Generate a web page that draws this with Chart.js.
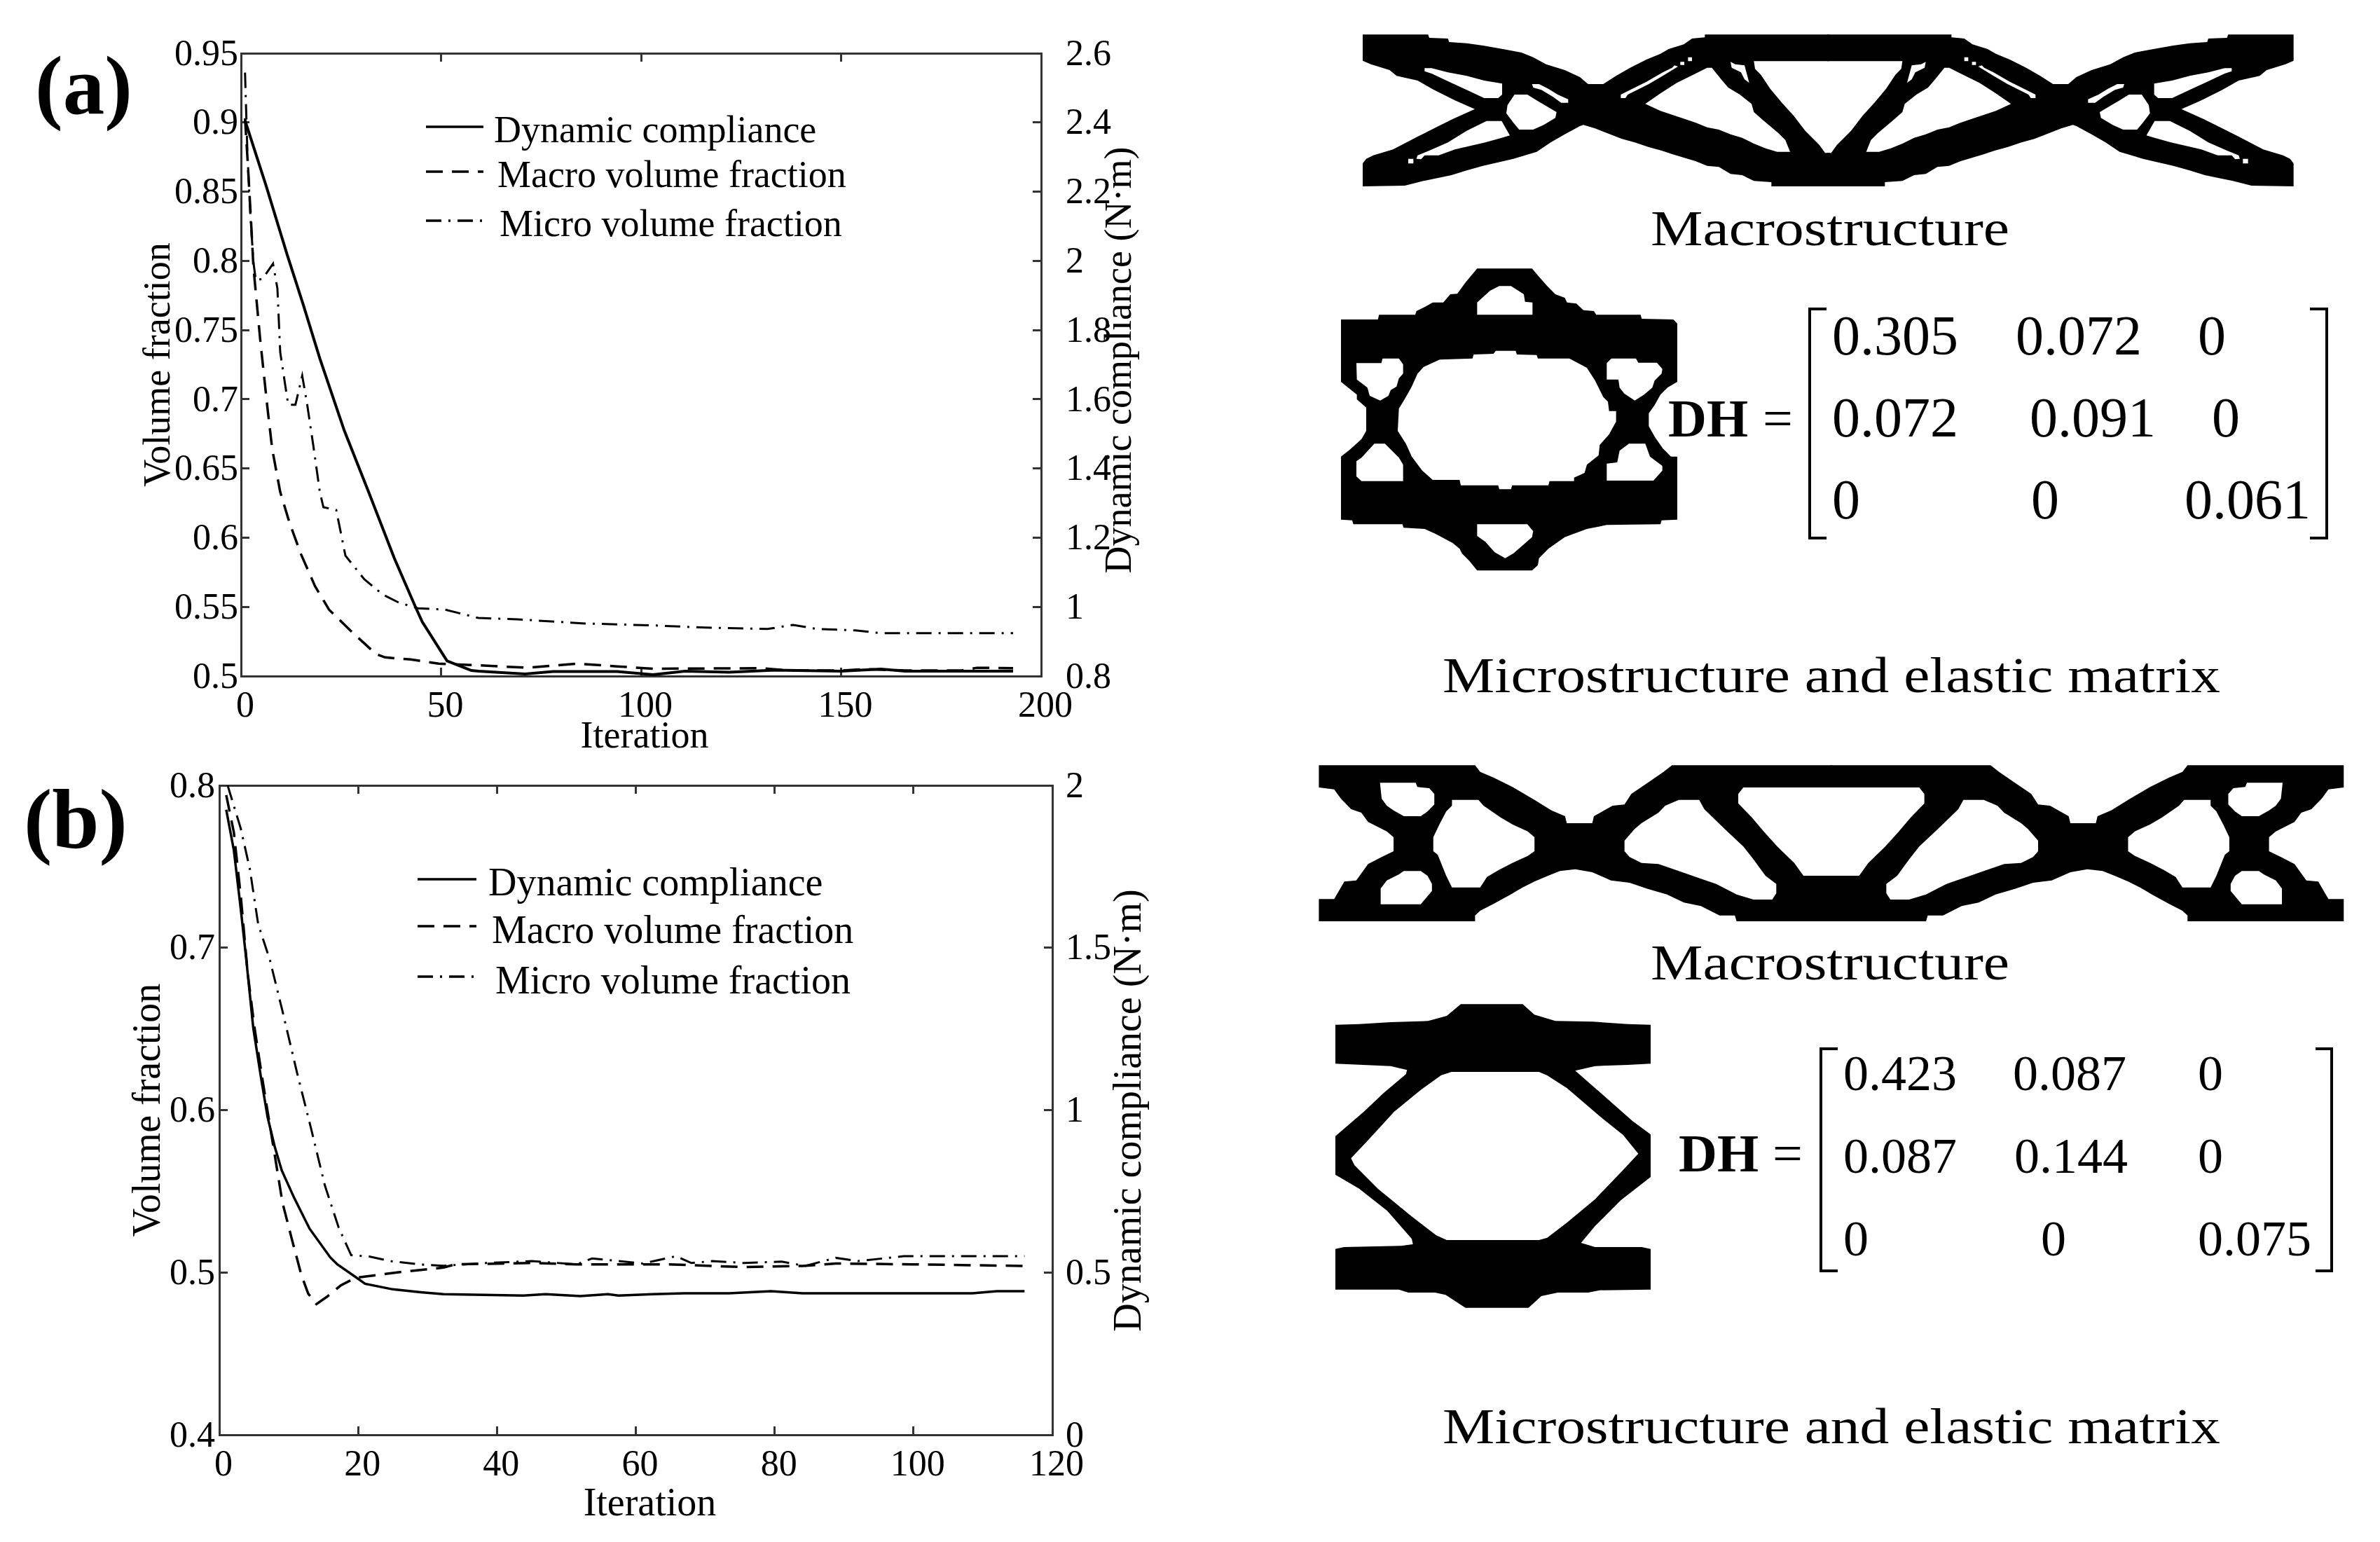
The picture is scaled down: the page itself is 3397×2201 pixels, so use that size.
<!DOCTYPE html>
<html>
<head>
<meta charset="utf-8">
<title>Dynamic compliance and volume fraction</title>
<script src="https://cdn.jsdelivr.net/npm/chart.js@4"></script>
<style>
  html, body { margin: 0; padding: 0; background: #fff; width: 3397px; height: 2201px; overflow: hidden; }
  canvas { position: absolute; left: 0; }
  #chartA { top: 0; }
  #chartB { top: 1040px; }
  svg { position: absolute; left: 0; top: 0; }
  svg text { font-family: "Liberation Serif", serif; fill: #000; }
</style>
</head>
<body>
<canvas id="chartA" width="1800" height="1100"></canvas>
<canvas id="chartB" width="1800" height="1160"></canvas>

<svg width="3397" height="2201" viewBox="0 0 3397 2201">
  <text x="50" y="162" font-size="119" font-weight="bold">(a)</text>
  <text x="34" y="1210" font-size="121" font-weight="bold">(b)</text>

  <!-- macrostructure a -->
  <g transform="translate(1940,40) scale(0.33333)">
    <g id="macroAHalf">
      <path fill-rule="evenodd" d="M15,28 L295,28 300,42 380,45 385,60 460,65 530,75 615,90 695,105 745,125 800,155 880,180 945,210 980,240 1045,240 1100,205 1160,170 1230,135 1290,110 1325,90 1390,70 1425,45 1480,40 1480,28 2012,28 2012,678 1765,678 1765,660 1690,655 1640,630 1590,625 1540,595 1490,590 1440,570 1390,555 1340,540 1295,525 1240,510 1180,490 1125,475 1075,455 1010,430 960,415 945,420 880,455 820,490 760,530 660,560 595,575 530,590 460,610 395,630 275,655 195,675 15,678 15,580 30,560 60,545 145,520 250,465 320,430 400,390 495,347 410,310 320,265 250,225 160,205 130,180 50,155 15,140 Z
      M280,172 L310,172 380,190 460,205 535,225 612,238 612,285 595,300 535,300 460,265 385,230 310,195 280,185 Z
      M665,285 L720,285 760,310 845,360 840,385 790,415 745,435 685,435 660,405 630,365 635,330 Z
      M545,398 L610,398 645,460 610,470 540,490 410,520 340,545 280,545 265,562 245,560 250,545 300,525 380,490 460,440 Z
      M210,560 L232,560 232,580 210,580 Z
      M740,240 L770,240 810,260 850,285 895,305 895,320 865,320 830,295 780,265 745,255 Z
      M1120,285 L1150,270 1230,230 1300,190 1340,170 1350,160 1365,165 1300,205 1240,240 1150,285 1140,300 1120,300 Z
      M1375,145 L1392,145 1392,158 1375,158 Z
      M1408,125 L1425,125 1425,142 1408,142 Z
      M1225,325 L1290,280 1360,235 1430,200 1490,170 1510,170 1550,220 1580,255 1630,285 1680,325 1690,360 1730,395 1795,450 1825,480 1845,530 1790,530 1740,515 1690,495 1640,470 1590,455 1540,435 1490,425 1440,405 1380,385 1290,355 Z
      M1590,145 L1610,155 1650,160 1670,235 1650,220 1635,190 1595,170 Z
      M1690,142 L2012,142 2012,535 1995,535 1970,500 1910,440 1860,375 1810,320 1760,260 1720,200 1695,175 Z"/>
    </g>
    <use href="#macroAHalf" transform="translate(4016,0) scale(-1,1)"/>
  </g>

  <!-- microstructure a -->
  <g transform="translate(1900,370) scale(0.33333)">
    <path fill-rule="evenodd" d="M42,258 L200,258 205,238 360,238 365,222 400,205 435,185 480,185 510,150 540,148 575,100 600,70 625,40 860,40 890,75 925,115 960,150 1000,165 1010,185 1050,190 1080,218 1125,222 1135,238 1325,238 1330,255 1465,258 1482,275 1482,525 1440,550 1410,580 1385,625 1360,660 1360,715 1385,760 1420,810 1455,845 1482,845 1482,1115 1415,1118 1410,1135 1180,1138 1095,1155 1000,1190 930,1240 890,1280 885,1310 860,1333 625,1333 590,1290 560,1260 550,1240 520,1215 445,1175 400,1155 310,1150 305,1135 95,1135 90,1118 42,1115 42,845 80,815 130,770 150,735 150,635 110,600 110,580 42,525 Z
    M625,185 L680,135 720,115 770,115 825,150 830,182 862,185 862,238 625,238 Z
    M290,640 L320,590 345,545 370,490 395,462 465,430 605,425 610,408 695,405 705,392 790,392 795,408 880,410 885,425 1020,425 1095,465 1130,520 1165,590 1185,610 1190,650 1220,650 1220,695 1190,750 1150,795 1145,840 1095,880 1085,915 1040,935 1040,950 935,950 930,968 775,968 770,985 720,985 715,968 555,968 550,945 435,945 390,905 345,845 320,790 285,735 Z
    M108,445 L215,445 220,425 290,425 308,450 308,490 290,510 280,545 255,560 245,585 210,605 165,585 155,550 110,515 Z
    M1180,445 L1200,425 1305,425 1315,443 1395,443 1418,470 1415,490 1385,520 1375,550 1340,580 1300,605 1255,575 1235,550 1230,515 1180,515 Z
    M185,790 L230,790 290,850 308,880 308,950 130,950 108,930 108,865 130,850 Z
    M1275,790 L1345,790 1365,845 1418,885 1418,905 1380,948 1180,948 1180,875 1225,870 1235,820 Z
    M625,1135 L840,1135 865,1165 860,1190 780,1260 745,1280 700,1255 660,1210 625,1185 Z"/>
  </g>

  <!-- macrostructure b -->
  <g transform="translate(1880,1080) scale(0.4847,0.33333)">
    <g id="macroBHalf">
      <path fill-rule="evenodd" d="M5,37 L465,37 480,65 520,90 575,130 605,155 640,185 690,230 730,255 735,285 810,285 815,255 870,210 905,205 925,160 975,110 1020,65 1045,37 1517,37 1517,705 1235,705 1230,680 1185,680 1130,640 1080,625 1030,590 970,565 920,540 865,530 810,495 760,482 715,490 680,510 640,535 605,560 570,590 520,630 480,660 465,680 465,705 5,705 5,610 50,610 80,535 115,530 150,460 190,430 225,405 225,345 205,320 150,280 130,240 100,225 70,180 50,140 5,132 Z
      M185,112 L290,112 295,130 330,135 345,160 345,205 325,235 305,255 255,255 225,230 205,210 190,180 Z
      M397,185 L475,185 490,210 540,260 575,290 620,320 640,345 640,405 620,425 575,455 535,485 500,515 480,560 397,560 380,510 355,420 342,405 342,345 360,290 380,235 397,210 Z
      M255,490 L305,490 325,510 338,545 338,575 305,632 187,632 187,565 205,530 240,505 Z
      M905,360 L935,310 955,285 1005,240 1025,210 1065,185 1125,185 1140,225 1200,310 1255,385 1285,440 1320,510 1352,545 1352,585 1340,612 1285,612 1235,590 1175,545 1115,515 1065,490 1005,460 955,455 920,430 905,405 Z
      M1255,132 L1517,132 1517,510 1432,510 1405,455 1355,385 1315,320 1280,260 1240,200 1240,160 Z"/>
    </g>
    <use href="#macroBHalf" transform="translate(3028,0) scale(-1,1)"/>
  </g>

  <!-- microstructure b -->
  <g transform="translate(1900,1420) scale(0.33333)">
    <path fill-rule="evenodd" d="M18,128 L120,125 255,117 415,112 495,90 555,40 820,40 870,85 960,112 1120,115 1270,125 1368,128 1368,295 1270,300 1130,305 1045,325 1160,425 1290,540 1368,598 1368,780 1240,880 1130,990 1070,1062 1130,1080 1330,1080 1368,1088 1368,1262 1150,1265 1100,1275 970,1275 900,1290 845,1340 575,1340 490,1285 445,1275 330,1275 290,1262 18,1262 18,1088 55,1080 300,1075 350,1068 345,1045 240,925 120,830 18,770 18,605 140,500 225,420 320,340 325,322 255,305 18,295 Z
    M85,700 L160,620 270,500 380,410 470,345 515,330 890,330 925,345 1010,400 1150,520 1250,600 1315,680 1250,750 1130,875 1010,975 925,1040 890,1050 495,1050 450,1030 340,945 200,830 100,730 Z"/>
  </g>

  <text x="2356" y="350" font-size="72" textLength="512" lengthAdjust="spacingAndGlyphs">Macrostructure</text>
  <text x="2059" y="988" font-size="72" textLength="1110" lengthAdjust="spacingAndGlyphs">Microstructure and elastic matrix</text>
  <text x="2356" y="1398" font-size="72" textLength="512" lengthAdjust="spacingAndGlyphs">Macrostructure</text>
  <text x="2059" y="2060" font-size="72" textLength="1110" lengthAdjust="spacingAndGlyphs">Microstructure and elastic matrix</text>

  <!-- matrix a -->
  <text x="2381" y="623" font-size="76" font-weight="bold">DH</text>
  <text x="2516" y="623" font-size="76">=</text>
  <path fill="none" stroke="#000" stroke-width="4" d="M2607,441 H2583 V768 H2607 M3297,441 H3321 V768 H3297"/>
  <g font-size="80">
    <text x="2615" y="506">0.305</text><text x="2877" y="506">0.072</text><text x="3137" y="506">0</text>
    <text x="2615" y="623">0.072</text><text x="2897" y="623">0.091</text><text x="3157" y="623">0</text>
    <text x="2615" y="740">0</text><text x="2899" y="740">0</text><text x="3118" y="740">0.061</text>
  </g>

  <!-- matrix b -->
  <text x="2396" y="1672" font-size="76" font-weight="bold">DH</text>
  <text x="2530" y="1672" font-size="76">=</text>
  <path fill="none" stroke="#000" stroke-width="4" d="M2623,1497 H2599 V1814 H2623 M3305,1497 H3328 V1814 H3305"/>
  <g font-size="72">
    <text x="2631" y="1556">0.423</text><text x="2873" y="1556">0.087</text><text x="3137" y="1556">0</text>
    <text x="2631" y="1674">0.087</text><text x="2875" y="1674">0.144</text><text x="3137" y="1674">0</text>
    <text x="2631" y="1792">0</text><text x="2913" y="1792">0</text><text x="3137" y="1792">0.075</text>
  </g>
</svg>

<script>
const seriesNames = ["Dynamic compliance", "Macro volume fraction", "Micro volume fraction"];

// panel (a)
const aDynamicX = [1, 6.3, 11.5, 15.6, 19.7, 25.8, 31.9, 38.3, 43.6, 45.3, 51.5, 57.6, 59.4, 71, 78, 94, 103, 111, 122, 133.5, 150, 160, 166, 181, 193];
const aDynamicY = [2.406, 2.216, 2.019, 1.872, 1.718, 1.51, 1.332, 1.141, 1.0, 0.957, 0.844, 0.816, 0.814, 0.806, 0.813, 0.813, 0.804, 0.814, 0.811, 0.817, 0.814, 0.82, 0.814, 0.814, 0.814];
const aMacroX = [1, 1.6, 2.5, 3.1, 3.7, 4.8, 6.6, 7.8, 9.8, 12.1, 15, 18.5, 22, 27.3, 33.7, 36, 42.4, 49.4, 57.6, 71.6, 84, 94, 103, 130, 137, 150, 156, 166, 180, 184, 193];
const aMacroY = [0.903, 0.875, 0.829, 0.796, 0.777, 0.743, 0.694, 0.664, 0.633, 0.611, 0.588, 0.565, 0.548, 0.533, 0.516, 0.5135, 0.512, 0.509, 0.508, 0.506, 0.509, 0.507, 0.5053, 0.5057, 0.504, 0.504, 0.505, 0.504, 0.504, 0.506, 0.5057];
const aMicroX = [1, 1.6, 2.3, 3.1, 3.7, 5.4, 8, 9.1, 9.8, 11.8, 13.6, 15.3, 16.5, 18.2, 19.7, 20.6, 23.8, 26.1, 30.8, 35.4, 39.5, 44.2, 51, 59.3, 69, 86, 103, 116, 131.6, 138, 144, 153.5, 160, 193];
const aMicroY = [0.936, 0.878, 0.835, 0.799, 0.786, 0.787, 0.798, 0.78, 0.734, 0.696, 0.696, 0.717, 0.697, 0.664, 0.633, 0.622, 0.62, 0.587, 0.57, 0.559, 0.553, 0.549, 0.548, 0.542, 0.541, 0.538, 0.5366, 0.535, 0.534, 0.537, 0.534, 0.533, 0.531, 0.531];
const aIterTicks = [0, 50, 100, 150, 200];
const aVolumeTicks = [0.5, 0.55, 0.6, 0.65, 0.7, 0.75, 0.8, 0.85, 0.9, 0.95];
const aComplianceTicks = [0.8, 1, 1.2, 1.4, 1.6, 1.8, 2, 2.2, 2.4, 2.6];

// panel (b)
const bDynamicX = [1, 2.1, 3.1, 3.9, 4.9, 5.95, 6.96, 8, 9, 10.8, 13, 16, 17, 19.7, 21, 25, 29, 32.3, 43.8, 47, 52, 56, 57.5, 62.5, 67, 73.4, 79.5, 84, 108.5, 112, 116];
const bDynamicY = [1.925, 1.8, 1.618, 1.461, 1.252, 1.108, 0.978, 0.886, 0.814, 0.729, 0.635, 0.546, 0.525, 0.485, 0.465, 0.448, 0.439, 0.433, 0.4287, 0.433, 0.427, 0.433, 0.4287, 0.433, 0.436, 0.436, 0.4425, 0.436, 0.436, 0.4425, 0.4425];
const bMacroX = [1, 2.1, 3.1, 4.1, 5.1, 6.1, 7, 8, 9.1, 10.5, 11.8, 12.8, 14, 15.5, 17.5, 19.6, 25.6, 32.3, 34, 45, 51.5, 64.7, 75.6, 84, 88.8, 99.7, 116];
const bMacroY = [0.794, 0.771, 0.7315, 0.684, 0.65, 0.622, 0.598, 0.572, 0.543, 0.5197, 0.4988, 0.487, 0.4805, 0.485, 0.492, 0.4967, 0.5, 0.503, 0.505, 0.5058, 0.505, 0.505, 0.5033, 0.504, 0.5055, 0.505, 0.504];
const bMicroX = [1.2, 3.1, 4.4, 5.6, 7.3, 9.1, 11.2, 13.2, 15.2, 17.2, 19, 21.6, 24.6, 29, 32.3, 38.4, 45, 51.5, 53.7, 61, 65.8, 68, 71, 75.6, 81, 84.4, 88.8, 92, 98.6, 116];
const bMicroY = [0.8, 0.7733, 0.7485, 0.7145, 0.6923, 0.661, 0.623, 0.589, 0.5537, 0.5276, 0.5106, 0.5098, 0.507, 0.5049, 0.5041, 0.5058, 0.507, 0.505, 0.5086, 0.5055, 0.51, 0.5058, 0.507, 0.5058, 0.5067, 0.504, 0.509, 0.507, 0.51, 0.51];
const bIterTicks = [0, 20, 40, 60, 80, 100, 120];
const bVolumeTicks = [0.4, 0.5, 0.6, 0.7, 0.8];
const bComplianceTicks = [0, 0.5, 1, 1.5, 2];

const serif = "Liberation Serif";
const axisColor = "#333";
const dashLong = [24, 13];
const dashDot = [22, 10, 3, 10];

function points(xs, ys) {
  return xs.map((x, i) => ({ x: x, y: ys[i] }));
}

function lineSet(label, xs, ys, axis, dash, width) {
  return {
    label: label,
    data: points(xs, ys),
    yAxisID: axis,
    borderColor: "#000",
    borderWidth: width,
    borderDash: dash,
    pointRadius: 0,
    tension: 0,
    fill: false,
  };
}

function axisLook(tickPad, shift, size, values) {
  return {
    border: { color: axisColor, width: 3 },
    grid: { display: true, drawOnChartArea: false, color: axisColor, lineWidth: 3, tickLength: -12 },
    afterBuildTicks: (s) => { s.ticks = values.map((v) => ({ value: v })); },
    ticks: {
      color: "#000",
      padding: tickPad,
      labelOffset: shift,
      autoSkip: false,
      maxRotation: 0,
      font: { family: serif, size: size, lineHeight: 1 },
      callback: (v) => String(v),
    },
  };
}

// draws the legend, the upward right axis title and nudges the x title
const panelExtras = {
  id: "panelExtras",
  afterLayout(chart, args, opts) {
    const x = chart.scales.x;
    const draw = x.drawTitle;
    x.drawTitle = function () {
      chart.ctx.save();
      chart.ctx.translate(opts.xTitleShift, 0);
      draw.call(this);
      chart.ctx.restore();
    };
  },
  afterDraw(chart, args, opts) {
    const ctx = chart.ctx;
    ctx.save();
    ctx.fillStyle = "#000";
    ctx.font = opts.size + 'px "' + serif + '"';
    ctx.textBaseline = "alphabetic";
    chart.data.datasets.forEach((ds, i) => {
      ctx.save();
      ctx.beginPath();
      ctx.setLineDash(ds.borderDash);
      ctx.lineWidth = 3.5;
      ctx.moveTo(opts.sampleLeft, opts.sampleY[i]);
      ctx.lineTo(opts.sampleRight, opts.sampleY[i]);
      ctx.stroke();
      ctx.restore();
      ctx.textAlign = "left";
      ctx.fillText(ds.label, opts.textX[i], opts.textY[i]);
    });
    ctx.translate(opts.rightTitleX, opts.rightTitleY);
    ctx.rotate(-Math.PI / 2);
    ctx.textAlign = "center";
    ctx.textBaseline = "middle";
    ctx.fillText(chart.options.scales.y2.title.text, 0, 0);
    ctx.restore();
  },
};

function buildChart(id, cfg) {
  const volume = axisLook(cfg.leftPad, 3, cfg.tickSize, cfg.volumeTicks);
  const compliance = axisLook(cfg.rightPad, 3, cfg.tickSize, cfg.complianceTicks);
  const iter = axisLook(cfg.bottomPad, 6, cfg.tickSize, cfg.iterTicks);
  const iterTop = axisLook(0, 0, cfg.tickSize, cfg.iterTicks);
  iterTop.ticks.display = false;

  return new Chart(document.getElementById(id).getContext("2d"), {
    type: "line",
    data: { datasets: cfg.datasets },
    plugins: [panelExtras],
    options: {
      responsive: false,
      animation: false,
      devicePixelRatio: 1,
      layout: { padding: cfg.padding },
      plugins: {
        legend: { display: false },
        tooltip: { enabled: false },
        panelExtras: cfg.extras,
      },
      scales: {
        x: Object.assign(iter, {
          type: "linear",
          position: "bottom",
          min: cfg.iterTicks[0],
          max: cfg.iterTicks[cfg.iterTicks.length - 1],
          title: { display: true, text: "Iteration", color: "#000", padding: 0, font: { family: serif, size: cfg.titleSize, lineHeight: 1 } },
          afterFit: (s) => { s.height = cfg.xHeight; },
        }),
        xTop: Object.assign(iterTop, {
          type: "linear",
          position: "top",
          min: cfg.iterTicks[0],
          max: cfg.iterTicks[cfg.iterTicks.length - 1],
          afterFit: (s) => { s.height = 0; },
        }),
        y: Object.assign(volume, {
          type: "linear",
          position: "left",
          min: cfg.volumeTicks[0],
          max: cfg.volumeTicks[cfg.volumeTicks.length - 1],
          title: { display: true, text: "Volume fraction", color: "#000", padding: 0, font: { family: serif, size: cfg.titleSize, lineHeight: 1 } },
          afterFit: (s) => { s.width = cfg.leftWidth; },
        }),
        y2: Object.assign(compliance, {
          type: "linear",
          position: "right",
          min: cfg.complianceTicks[0],
          max: cfg.complianceTicks[cfg.complianceTicks.length - 1],
          title: { display: false, text: "Dynamic compliance (N·m)" },
          afterFit: (s) => { s.width = cfg.rightWidth; },
        }),
      },
    },
  });
}

buildChart("chartA", {
  datasets: [
    lineSet(seriesNames[0], aDynamicX, aDynamicY, "y2", [], 4),
    lineSet(seriesNames[1], aMacroX, aMacroY, "y", dashLong, 3.5),
    lineSet(seriesNames[2], aMicroX, aMicroY, "y", dashDot, 3),
  ],
  iterTicks: aIterTicks,
  volumeTicks: aVolumeTicks,
  complianceTicks: aComplianceTicks,
  tickSize: 52,
  titleSize: 54,
  leftPad: 16,
  rightPad: 47,
  bottomPad: 30,
  xHeight: 115,
  leftWidth: 143,
  rightWidth: 141,
  padding: { left: 201, right: 173, top: 76, bottom: 20 },
  extras: {
    size: 54,
    xTitleShift: 5,
    sampleLeft: 608,
    sampleRight: 690,
    sampleY: [181, 245, 315],
    textX: [705, 710, 713],
    textY: [203, 267, 337],
    rightTitleX: 1600,
    rightTitleY: 514,
  },
});

buildChart("chartB", {
  datasets: [
    lineSet(seriesNames[0], bDynamicX, bDynamicY, "y2", [], 3.5),
    lineSet(seriesNames[1], bMacroX, bMacroY, "y", dashLong, 3.5),
    lineSet(seriesNames[2], bMicroX, bMicroY, "y", dashDot, 3),
  ],
  iterTicks: bIterTicks,
  volumeTicks: bVolumeTicks,
  complianceTicks: bComplianceTicks,
  tickSize: 52,
  titleSize: 56,
  leftPad: 18,
  rightPad: 31,
  bottomPad: 30,
  xHeight: 128,
  leftWidth: 128,
  rightWidth: 139,
  padding: { left: 185, right: 159, top: 81, bottom: 24 },
  extras: {
    size: 56,
    xTitleShift: 20,
    sampleLeft: 596,
    sampleRight: 680,
    sampleY: [215, 282, 354],
    textX: [697, 702, 707],
    textY: [238, 306, 378],
    rightTitleX: 1613,
    rightTitleY: 545,
  },
});
</script>
</body>
</html>
